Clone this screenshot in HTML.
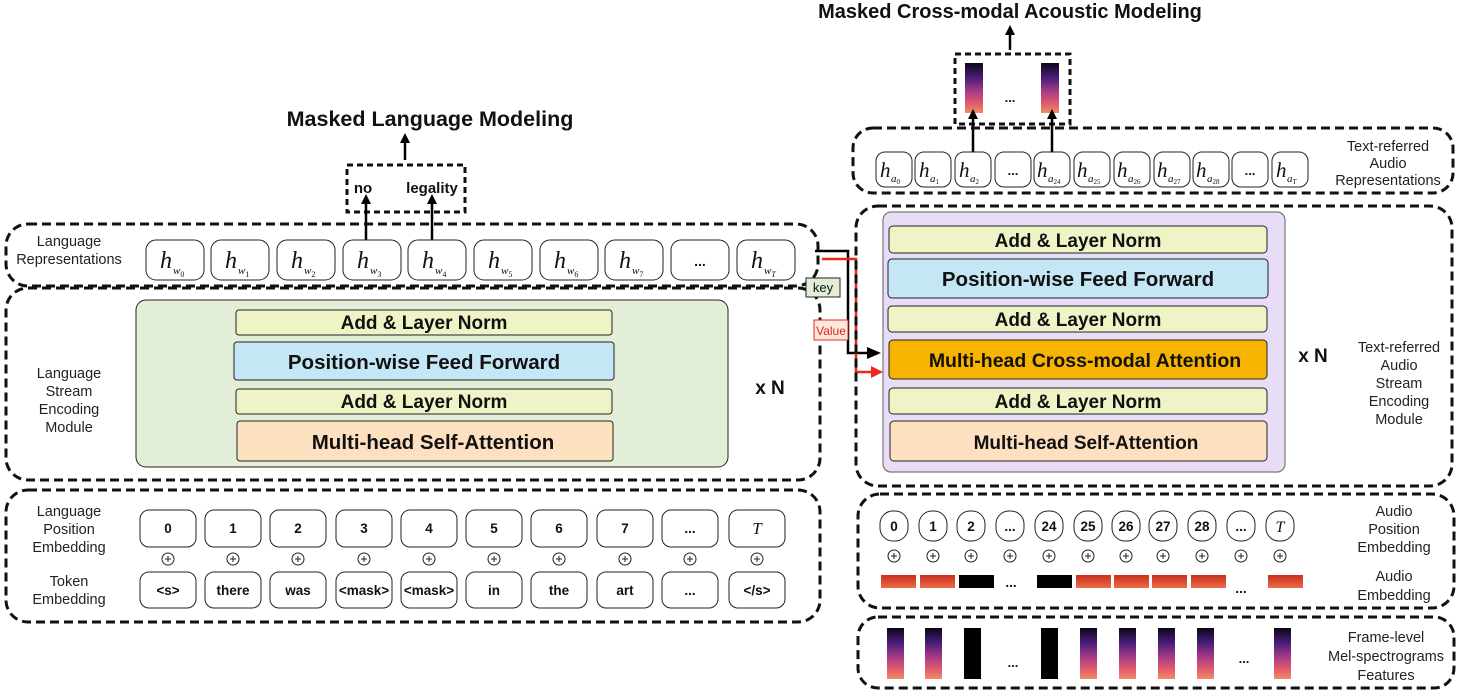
<!DOCTYPE html>
<html><head><meta charset="utf-8"><style>
html,body{margin:0;padding:0;background:#fff;}
svg{display:block;font-family:"Liberation Sans",sans-serif;}
.d{fill:none;stroke:#111;stroke-width:3;stroke-dasharray:9,5;}
.b{fill:#fff;stroke:#222;stroke-width:1;}
.t{font-size:14.5px;text-anchor:middle;fill:#222;}
.bt{font-weight:bold;text-anchor:middle;fill:#111;}
.h{font-family:"Liberation Serif",serif;font-style:italic;font-size:24px;fill:#111;}
.s{font-family:"Liberation Serif",serif;font-style:italic;font-size:11px;fill:#111;}
</style></head><body>
<svg width="1464" height="691" viewBox="0 0 1464 691" xmlns="http://www.w3.org/2000/svg">
<defs>
<linearGradient id="sp" x1="0" y1="0" x2="0" y2="1">
<stop offset="0" stop-color="#0a0618"/><stop offset="0.3" stop-color="#4a1f7a"/><stop offset="0.55" stop-color="#a03a86"/><stop offset="0.8" stop-color="#e05a6a"/><stop offset="1" stop-color="#f38a6a"/></linearGradient>
<linearGradient id="rb" x1="0" y1="0" x2="0" y2="1"><stop offset="0" stop-color="#c8301e"/><stop offset="1" stop-color="#ee6a48"/></linearGradient>
<marker id="ak" markerWidth="10" markerHeight="10" refX="7" refY="5" orient="auto" markerUnits="userSpaceOnUse"><path d="M0,0 L10,5 L0,10 z" fill="#000"/></marker>
<marker id="ar" markerWidth="12" markerHeight="12" refX="9" refY="6" orient="auto" markerUnits="userSpaceOnUse"><path d="M0,0 L12,6 L0,12 z" fill="#e8281a"/></marker>
<marker id="ab" markerWidth="14" markerHeight="12" refX="11" refY="6" orient="auto" markerUnits="userSpaceOnUse"><path d="M0,0 L14,6 L0,12 z" fill="#000"/></marker>
</defs>

<!-- LEFT: MLM -->
<text x="430" y="126" class="bt" font-size="21.5">Masked Language Modeling</text>
<line x1="405" y1="160" x2="405" y2="136" stroke="#000" stroke-width="2.5" marker-end="url(#ak)"/>
<rect x="347" y="165" width="118" height="47" class="d" stroke-width="2" style="stroke-dasharray:6,4"/>
<text x="363" y="193" class="bt" font-size="15">no</text>
<text x="432" y="193" class="bt" font-size="15">legality</text>
<line x1="366" y1="240" x2="366" y2="197" stroke="#000" stroke-width="2.5" marker-end="url(#ak)"/>
<line x1="432" y1="240" x2="432" y2="197" stroke="#000" stroke-width="2.5" marker-end="url(#ak)"/>

<rect x="6" y="224" width="812" height="62" rx="22" class="d"/>
<text x="69" y="246" class="t">Language</text>
<text x="69" y="264" class="t">Representations</text>
<g>
<rect x="146" y="240" width="58" height="40" rx="10" class="b"/>
<rect x="211" y="240" width="58" height="40" rx="10" class="b"/>
<rect x="277" y="240" width="58" height="40" rx="10" class="b"/>
<rect x="343" y="240" width="58" height="40" rx="10" class="b"/>
<rect x="408" y="240" width="58" height="40" rx="10" class="b"/>
<rect x="474" y="240" width="58" height="40" rx="10" class="b"/>
<rect x="540" y="240" width="58" height="40" rx="10" class="b"/>
<rect x="605" y="240" width="58" height="40" rx="10" class="b"/>
<rect x="671" y="240" width="58" height="40" rx="10" class="b"/>
<rect x="737" y="240" width="58" height="40" rx="10" class="b"/>
</g>
<text x="160" y="268" class="h">h</text><text x="173" y="274" class="s">w<tspan font-size="8" dy="3" font-style="normal">0</tspan></text>
<text x="225" y="268" class="h">h</text><text x="238" y="274" class="s">w<tspan font-size="8" dy="3" font-style="normal">1</tspan></text>
<text x="291" y="268" class="h">h</text><text x="304" y="274" class="s">w<tspan font-size="8" dy="3" font-style="normal">2</tspan></text>
<text x="357" y="268" class="h">h</text><text x="370" y="274" class="s">w<tspan font-size="8" dy="3" font-style="normal">3</tspan></text>
<text x="422" y="268" class="h">h</text><text x="435" y="274" class="s">w<tspan font-size="8" dy="3" font-style="normal">4</tspan></text>
<text x="488" y="268" class="h">h</text><text x="501" y="274" class="s">w<tspan font-size="8" dy="3" font-style="normal">5</tspan></text>
<text x="554" y="268" class="h">h</text><text x="567" y="274" class="s">w<tspan font-size="8" dy="3" font-style="normal">6</tspan></text>
<text x="619" y="268" class="h">h</text><text x="632" y="274" class="s">w<tspan font-size="8" dy="3" font-style="normal">7</tspan></text>
<text x="700" y="266" class="bt" font-size="14">...</text>
<text x="751" y="268" class="h">h</text><text x="764" y="274" class="s">w<tspan font-size="8" dy="3">T</tspan></text>

<!-- Left encoder -->
<rect x="6" y="288" width="814" height="192" rx="22" class="d"/>
<text x="69" y="378" class="t">Language</text>
<text x="69" y="396" class="t">Stream</text>
<text x="69" y="414" class="t">Encoding</text>
<text x="69" y="432" class="t">Module</text>
<rect x="136" y="300" width="592" height="167" rx="10" fill="#e2eed8" stroke="#222" stroke-width="1"/>
<rect x="236" y="310" width="376" height="25" rx="3" fill="#eff4c6" stroke="#222"/>
<text x="424" y="329" class="bt" font-size="19">Add &amp; Layer Norm</text>
<rect x="234" y="342" width="380" height="38" rx="3" fill="#c5e6f5" stroke="#222"/>
<text x="424" y="369" class="bt" font-size="20.5">Position-wise Feed Forward</text>
<rect x="236" y="389" width="376" height="25" rx="3" fill="#eff4c6" stroke="#222"/>
<text x="424" y="408" class="bt" font-size="19">Add &amp; Layer Norm</text>
<rect x="237" y="421" width="376" height="40" rx="3" fill="#fde0c0" stroke="#222"/>
<text x="433" y="449" class="bt" font-size="20.5">Multi-head Self-Attention</text>
<text x="770" y="394" class="bt" font-size="19">x N</text>

<!-- Left bottom -->
<rect x="6" y="490" width="814" height="132" rx="22" class="d"/>
<text x="69" y="516" class="t">Language</text>
<text x="69" y="534" class="t">Position</text>
<text x="69" y="552" class="t">Embedding</text>
<text x="69" y="586" class="t">Token</text>
<text x="69" y="604" class="t">Embedding</text>
<g font-weight="bold" font-size="13.5" text-anchor="middle" fill="#111">
<rect x="140" y="510" width="56" height="37" rx="9" class="b"/><text x="168" y="533">0</text>
<rect x="205" y="510" width="56" height="37" rx="9" class="b"/><text x="233" y="533">1</text>
<rect x="270" y="510" width="56" height="37" rx="9" class="b"/><text x="298" y="533">2</text>
<rect x="336" y="510" width="56" height="37" rx="9" class="b"/><text x="364" y="533">3</text>
<rect x="401" y="510" width="56" height="37" rx="9" class="b"/><text x="429" y="533">4</text>
<rect x="466" y="510" width="56" height="37" rx="9" class="b"/><text x="494" y="533">5</text>
<rect x="531" y="510" width="56" height="37" rx="9" class="b"/><text x="559" y="533">6</text>
<rect x="597" y="510" width="56" height="37" rx="9" class="b"/><text x="625" y="533">7</text>
<rect x="662" y="510" width="56" height="37" rx="9" class="b"/><text x="690" y="533">...</text>
<rect x="729" y="510" width="56" height="37" rx="9" class="b"/><text x="757" y="534" font-family="Liberation Serif" font-style="italic" font-weight="normal" font-size="17">T</text>
<rect x="140" y="572" width="56" height="36" rx="9" class="b"/><text x="168" y="595">&lt;s&gt;</text>
<rect x="205" y="572" width="56" height="36" rx="9" class="b"/><text x="233" y="595">there</text>
<rect x="270" y="572" width="56" height="36" rx="9" class="b"/><text x="298" y="595">was</text>
<rect x="336" y="572" width="56" height="36" rx="9" class="b"/><text x="364" y="595">&lt;mask&gt;</text>
<rect x="401" y="572" width="56" height="36" rx="9" class="b"/><text x="429" y="595">&lt;mask&gt;</text>
<rect x="466" y="572" width="56" height="36" rx="9" class="b"/><text x="494" y="595">in</text>
<rect x="531" y="572" width="56" height="36" rx="9" class="b"/><text x="559" y="595">the</text>
<rect x="597" y="572" width="56" height="36" rx="9" class="b"/><text x="625" y="595">art</text>
<rect x="662" y="572" width="56" height="36" rx="9" class="b"/><text x="690" y="595">...</text>
<rect x="729" y="572" width="56" height="36" rx="9" class="b"/><text x="757" y="595">&lt;/s&gt;</text>
</g>
<g fill="#fff" stroke="#222" stroke-width="1">
<circle cx="168" cy="559" r="6"/><circle cx="233" cy="559" r="6"/><circle cx="298" cy="559" r="6"/><circle cx="364" cy="559" r="6"/><circle cx="429" cy="559" r="6"/><circle cx="494" cy="559" r="6"/><circle cx="559" cy="559" r="6"/><circle cx="625" cy="559" r="6"/><circle cx="690" cy="559" r="6"/><circle cx="757" cy="559" r="6"/>
</g>
<g stroke="#222" stroke-width="1">
<path d="M165,559h6M168,556v6M230,559h6M233,556v6M295,559h6M298,556v6M361,559h6M364,556v6M426,559h6M429,556v6M491,559h6M494,556v6M556,559h6M559,556v6M622,559h6M625,556v6M687,559h6M690,556v6M754,559h6M757,556v6"/>
</g>

<!-- connectors -->
<path d="M815,251 H848 V353 H878" fill="none" stroke="#000" stroke-width="2.5" marker-end="url(#ab)"/>
<path d="M822,259 H856 V372 H880" fill="none" stroke="#e8281a" stroke-width="2.5" marker-end="url(#ar)"/>
<rect x="806" y="278" width="34" height="19" fill="#e2eed8" stroke="#222"/>
<text x="823" y="292" font-size="13" text-anchor="middle" fill="#111">key</text>
<rect x="814" y="320" width="34" height="20" fill="#fde6dc" stroke="#e8281a"/>
<text x="831" y="335" font-size="12" text-anchor="middle" fill="#d8281a">Value</text>

<!-- RIGHT top -->
<text x="1010" y="18" class="bt" font-size="20">Masked Cross-modal Acoustic Modeling</text>
<line x1="1010" y1="50" x2="1010" y2="28" stroke="#000" stroke-width="2.5" marker-end="url(#ak)"/>
<rect x="955" y="54" width="115" height="70" class="d" stroke-width="2" style="stroke-dasharray:6,4"/>
<rect x="965" y="63" width="18" height="50" fill="url(#sp)"/>
<rect x="1041" y="63" width="18" height="50" fill="url(#sp)"/>
<text x="1010" y="102" class="bt" font-size="13">...</text>
<line x1="973" y1="152" x2="973" y2="112" stroke="#000" stroke-width="2.5" marker-end="url(#ak)"/>
<line x1="1052" y1="152" x2="1052" y2="112" stroke="#000" stroke-width="2.5" marker-end="url(#ak)"/>

<rect x="853" y="128" width="600" height="65" rx="20" class="d"/>
<text x="1388" y="151" class="t">Text-referred</text>
<text x="1388" y="168" class="t">Audio</text>
<text x="1388" y="185" class="t">Representations</text>
<g>
<rect x="876" y="152" width="36" height="35" rx="9" class="b"/>
<rect x="915" y="152" width="36" height="35" rx="9" class="b"/>
<rect x="955" y="152" width="36" height="35" rx="9" class="b"/>
<rect x="995" y="152" width="36" height="35" rx="9" class="b"/>
<rect x="1034" y="152" width="36" height="35" rx="9" class="b"/>
<rect x="1074" y="152" width="36" height="35" rx="9" class="b"/>
<rect x="1114" y="152" width="36" height="35" rx="9" class="b"/>
<rect x="1154" y="152" width="36" height="35" rx="9" class="b"/>
<rect x="1193" y="152" width="36" height="35" rx="9" class="b"/>
<rect x="1232" y="152" width="36" height="35" rx="9" class="b"/>
<rect x="1272" y="152" width="36" height="35" rx="9" class="b"/>
</g>
<g font-family="Liberation Serif" font-style="italic" fill="#111">
<text x="880" y="177" font-size="21">h</text><text x="891" y="182" font-size="11">a<tspan font-size="7" dy="2" font-style="normal">0</tspan></text>
<text x="919" y="177" font-size="21">h</text><text x="930" y="182" font-size="11">a<tspan font-size="7" dy="2" font-style="normal">1</tspan></text>
<text x="959" y="177" font-size="21">h</text><text x="970" y="182" font-size="11">a<tspan font-size="7" dy="2" font-style="normal">2</tspan></text>
<text x="1013" y="175" font-size="13" font-family="Liberation Sans" font-style="normal" font-weight="bold" text-anchor="middle">...</text>
<text x="1037" y="177" font-size="21">h</text><text x="1048" y="182" font-size="11">a<tspan font-size="7" dy="2" font-style="normal">24</tspan></text>
<text x="1077" y="177" font-size="21">h</text><text x="1088" y="182" font-size="11">a<tspan font-size="7" dy="2" font-style="normal">25</tspan></text>
<text x="1117" y="177" font-size="21">h</text><text x="1128" y="182" font-size="11">a<tspan font-size="7" dy="2" font-style="normal">26</tspan></text>
<text x="1157" y="177" font-size="21">h</text><text x="1168" y="182" font-size="11">a<tspan font-size="7" dy="2" font-style="normal">27</tspan></text>
<text x="1196" y="177" font-size="21">h</text><text x="1207" y="182" font-size="11">a<tspan font-size="7" dy="2" font-style="normal">28</tspan></text>
<text x="1250" y="175" font-size="13" font-family="Liberation Sans" font-style="normal" font-weight="bold" text-anchor="middle">...</text>
<text x="1276" y="177" font-size="21">h</text><text x="1287" y="182" font-size="11">a<tspan font-size="7" dy="2">T</tspan></text>
</g>

<!-- Right encoder -->
<rect x="856" y="206" width="596" height="280" rx="22" class="d"/>
<rect x="883" y="212" width="402" height="260" rx="8" fill="#e9dcf6" stroke="#777" stroke-width="1.2"/>
<rect x="889" y="226" width="378" height="27" rx="4" fill="#eff4c6" stroke="#222"/>
<text x="1078" y="247" class="bt" font-size="19">Add &amp; Layer Norm</text>
<rect x="888" y="259" width="380" height="39" rx="4" fill="#c5e6f5" stroke="#222"/>
<text x="1078" y="286" class="bt" font-size="20.5">Position-wise Feed Forward</text>
<rect x="888" y="306" width="379" height="26" rx="4" fill="#eff4c6" stroke="#222"/>
<text x="1078" y="326" class="bt" font-size="19">Add &amp; Layer Norm</text>
<rect x="889" y="340" width="378" height="39" rx="4" fill="#f6b400" stroke="#222"/>
<text x="1085" y="367" class="bt" font-size="19.5">Multi-head Cross-modal Attention</text>
<rect x="889" y="388" width="378" height="26" rx="4" fill="#eff4c6" stroke="#222"/>
<text x="1078" y="408" class="bt" font-size="19">Add &amp; Layer Norm</text>
<rect x="890" y="421" width="377" height="40" rx="4" fill="#fde0c0" stroke="#222"/>
<text x="1086" y="449" class="bt" font-size="19">Multi-head Self-Attention</text>
<text x="1313" y="362" class="bt" font-size="19">x N</text>
<text x="1399" y="352" class="t">Text-referred</text>
<text x="1399" y="370" class="t">Audio</text>
<text x="1399" y="388" class="t">Stream</text>
<text x="1399" y="406" class="t">Encoding</text>
<text x="1399" y="424" class="t">Module</text>

<!-- Right bottom -->
<rect x="858" y="494" width="596" height="114" rx="22" class="d"/>
<text x="1394" y="516" class="t">Audio</text>
<text x="1394" y="534" class="t">Position</text>
<text x="1394" y="552" class="t">Embedding</text>
<text x="1394" y="581" class="t">Audio</text>
<text x="1394" y="600" class="t">Embedding</text>
<g font-weight="bold" font-size="13.5" text-anchor="middle" fill="#111">
<rect x="880" y="511" width="28" height="30" rx="13" class="b"/><text x="894" y="531">0</text>
<rect x="919" y="511" width="28" height="30" rx="13" class="b"/><text x="933" y="531">1</text>
<rect x="957" y="511" width="28" height="30" rx="13" class="b"/><text x="971" y="531">2</text>
<rect x="996" y="511" width="28" height="30" rx="13" class="b"/><text x="1010" y="531">...</text>
<rect x="1035" y="511" width="28" height="30" rx="13" class="b"/><text x="1049" y="531">24</text>
<rect x="1074" y="511" width="28" height="30" rx="13" class="b"/><text x="1088" y="531">25</text>
<rect x="1112" y="511" width="28" height="30" rx="13" class="b"/><text x="1126" y="531">26</text>
<rect x="1149" y="511" width="28" height="30" rx="13" class="b"/><text x="1163" y="531">27</text>
<rect x="1188" y="511" width="28" height="30" rx="13" class="b"/><text x="1202" y="531">28</text>
<rect x="1227" y="511" width="28" height="30" rx="13" class="b"/><text x="1241" y="531">...</text>
<rect x="1266" y="511" width="28" height="30" rx="13" class="b"/><text x="1280" y="532" font-family="Liberation Serif" font-style="italic" font-weight="normal" font-size="16">T</text>
<text x="1011" y="587">...</text><text x="1241" y="593">...</text>
</g>
<g fill="#fff" stroke="#222">
<circle cx="894" cy="556" r="6"/><circle cx="933" cy="556" r="6"/><circle cx="971" cy="556" r="6"/><circle cx="1010" cy="556" r="6"/><circle cx="1049" cy="556" r="6"/><circle cx="1088" cy="556" r="6"/><circle cx="1126" cy="556" r="6"/><circle cx="1163" cy="556" r="6"/><circle cx="1202" cy="556" r="6"/><circle cx="1241" cy="556" r="6"/><circle cx="1280" cy="556" r="6"/>
</g>
<path stroke="#222" d="M891,556h6M894,553v6M930,556h6M933,553v6M968,556h6M971,553v6M1007,556h6M1010,553v6M1046,556h6M1049,553v6M1085,556h6M1088,553v6M1123,556h6M1126,553v6M1160,556h6M1163,553v6M1199,556h6M1202,553v6M1238,556h6M1241,553v6M1277,556h6M1280,553v6"/>
<rect x="881" y="575" width="35" height="13" fill="url(#rb)"/>
<rect x="920" y="575" width="35" height="13" fill="url(#rb)"/>
<rect x="959" y="575" width="35" height="13" fill="#000"/>
<rect x="1037" y="575" width="35" height="13" fill="#000"/>
<rect x="1076" y="575" width="35" height="13" fill="url(#rb)"/>
<rect x="1114" y="575" width="35" height="13" fill="url(#rb)"/>
<rect x="1152" y="575" width="35" height="13" fill="url(#rb)"/>
<rect x="1191" y="575" width="35" height="13" fill="url(#rb)"/>
<rect x="1268" y="575" width="35" height="13" fill="url(#rb)"/>

<rect x="858" y="617" width="596" height="71" rx="20" class="d"/>
<text x="1386" y="642" class="t">Frame-level</text>
<text x="1386" y="661" class="t">Mel-spectrograms</text>
<text x="1386" y="680" class="t">Features</text>
<rect x="887" y="628" width="17" height="51" fill="url(#sp)"/>
<rect x="925" y="628" width="17" height="51" fill="url(#sp)"/>
<rect x="964" y="628" width="17" height="51" fill="#000"/>
<rect x="1041" y="628" width="17" height="51" fill="#000"/>
<rect x="1080" y="628" width="17" height="51" fill="url(#sp)"/>
<rect x="1119" y="628" width="17" height="51" fill="url(#sp)"/>
<rect x="1158" y="628" width="17" height="51" fill="url(#sp)"/>
<rect x="1197" y="628" width="17" height="51" fill="url(#sp)"/>
<rect x="1274" y="628" width="17" height="51" fill="url(#sp)"/>
<text x="1013" y="667" class="bt" font-size="13">...</text>
<text x="1244" y="663" class="bt" font-size="13">...</text>
</svg>
</body></html>
